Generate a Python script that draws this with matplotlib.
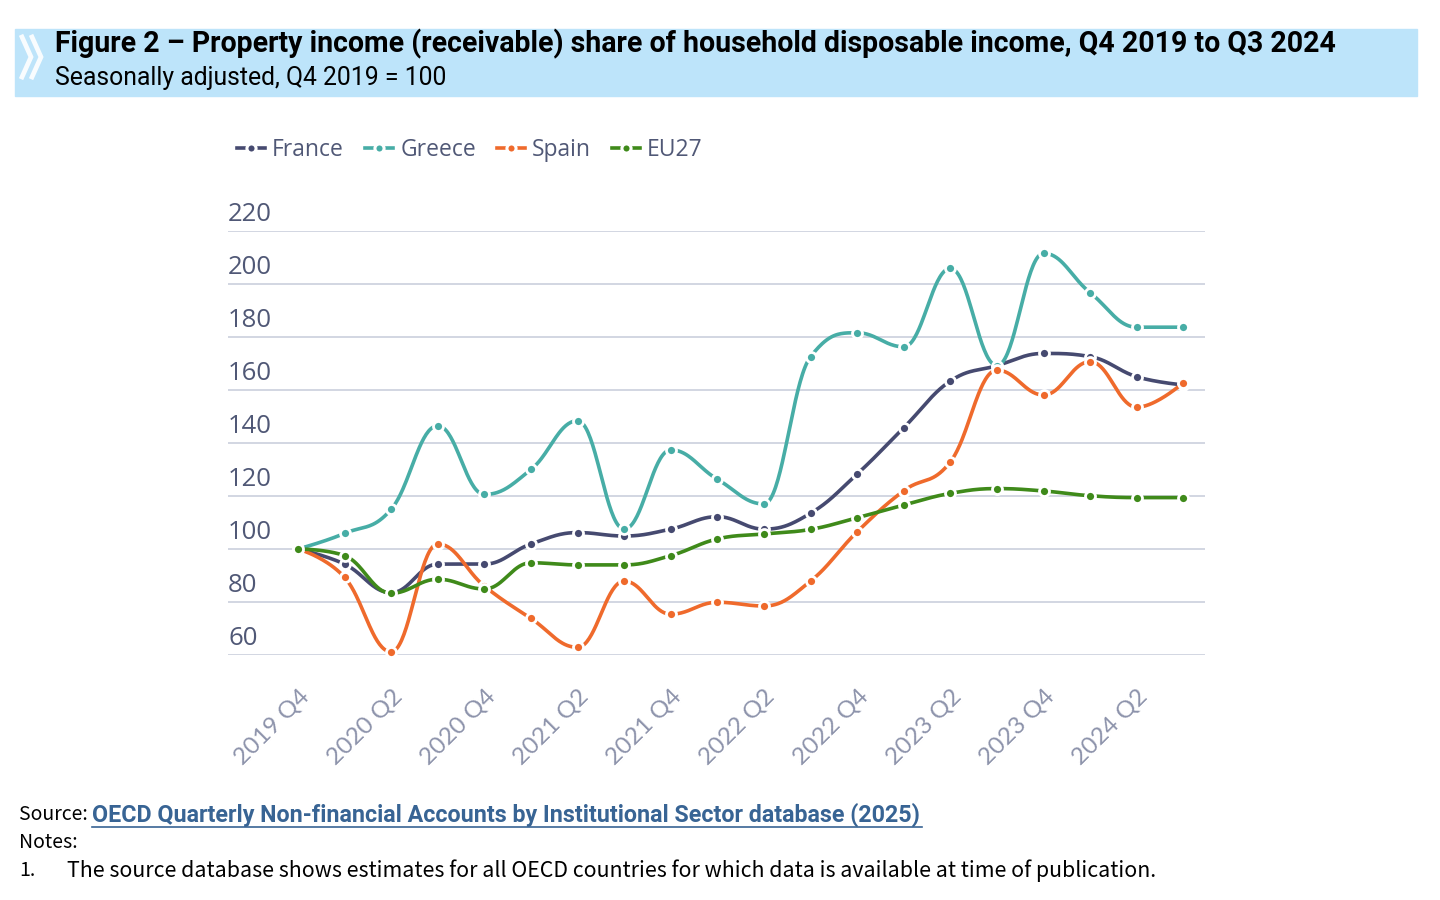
import numpy as np
import matplotlib
matplotlib.use('Agg')
import matplotlib.pyplot as plt
from matplotlib import font_manager
from matplotlib.lines import Line2D
from matplotlib.patches import Rectangle

# quarters 2019 Q4 .. 2024 Q3
quarters = ['2019 Q4', '2020 Q1', '2020 Q2', '2020 Q3', '2020 Q4', '2021 Q1', '2021 Q2',
            '2021 Q3', '2021 Q4', '2022 Q1', '2022 Q2', '2022 Q3', '2022 Q4', '2023 Q1',
            '2023 Q2', '2023 Q3', '2023 Q4', '2024 Q1', '2024 Q2', '2024 Q3']

france = [100, 94.3, 83.5, 94.3, 94.3, 101.9, 106.2, 104.9, 107.5, 112.2,
          107.5, 113.5, 128.3, 145.8, 163.4, 169.2, 173.8, 172.6, 165.0, 161.9]
greece = [100, 105.9, 115.0, 146.5, 120.6, 130.0, 148.4, 107.5, 137.4, 126.3,
          117.0, 172.6, 181.6, 176.3, 205.9, 169.2, 211.6, 196.7, 183.7, 183.7]
spain = [100, 89.3, 61.2, 101.9, 86.0, 73.8, 62.9, 87.9, 75.4, 79.9,
         78.5, 87.9, 106.5, 122.0, 132.9, 167.5, 158.1, 170.7, 153.5, 162.8]
eu27 = [100, 97.5, 83.3, 88.6, 84.9, 94.8, 94.0, 94.0, 97.5, 103.8,
        105.7, 107.4, 111.8, 116.6, 121.0, 122.8, 121.9, 120.1, 119.4, 119.4]

series_names = ['France', 'Greece', 'Spain', 'EU27']
series_vals = [france, greece, spain, eu27]
series_colors = ['#464a70', '#47ada6', '#ef6a2c', '#3f8a1a']
yticks = [60, 80, 100, 120, 140, 160, 180, 200, 220]

installed = {f.name for f in font_manager.fontManager.ttflist}
narrow = 'Liberation Sans Narrow' if 'Liberation Sans Narrow' in installed else 'Roboto'
cjk = 'Noto Sans CJK JP'
axis_font = 'Open Sans'
label_font = 'Lato'

W, H = 1440, 900
fig = plt.figure(figsize=(14.4, 9), dpi=100)


def fx(px):
    return px / W


def fy(py):
    return 1 - py / H


def fit_text(t, target_px):
    # scale font size so the text spans the wanted width in pixels
    r = fig.canvas.get_renderer()
    w = t.get_window_extent(r).width
    t.set_fontsize(t.get_fontsize() * target_px / w)


def spline(xs, ys, smoothing=1.5, n=40):
    # highcharts-like spline: cubic bezier between points
    xs = np.asarray(xs, float)
    ys = np.asarray(ys, float)
    m = len(xs)
    lc = np.zeros((m, 2))
    rc = np.zeros((m, 2))
    for i in range(m):
        px, py = xs[i], ys[i]
        lc[i] = rc[i] = (px, py)
        if 0 < i < m - 1:
            d = smoothing + 1
            lx, ly = xs[i - 1], ys[i - 1]
            nx, ny = xs[i + 1], ys[i + 1]
            lcx, lcy = (smoothing * px + lx) / d, (smoothing * py + ly) / d
            rcx, rcy = (smoothing * px + nx) / d, (smoothing * py + ny) / d
            corr = (rcy - lcy) * (rcx - px) / (rcx - lcx) + py - rcy
            lcy += corr
            rcy += corr
            if lcy > ly and lcy > py:
                lcy = max(ly, py)
                rcy = 2 * py - lcy
            elif lcy < ly and lcy < py:
                lcy = min(ly, py)
                rcy = 2 * py - lcy
            if rcy > ny and rcy > py:
                rcy = max(ny, py)
                lcy = 2 * py - rcy
            elif rcy < ny and rcy < py:
                rcy = min(ny, py)
                lcy = 2 * py - rcy
            lc[i] = (lcx, lcy)
            rc[i] = (rcx, rcy)
    t = np.linspace(0, 1, n)[:, None]
    out = [np.array([[xs[0], ys[0]]])]
    for i in range(1, m):
        p0 = np.array([xs[i - 1], ys[i - 1]])
        p3 = np.array([xs[i], ys[i]])
        p1, p2 = rc[i - 1], lc[i]
        seg = ((1 - t) ** 3) * p0 + 3 * ((1 - t) ** 2) * t * p1 + 3 * (1 - t) * t ** 2 * p2 + t ** 3 * p3
        out.append(seg[1:])
    pts = np.vstack(out)
    return pts[:, 0], pts[:, 1]


# header band
fig.patches.append(Rectangle((fx(15), fy(96)), fx(1417) - fx(15), fy(29) - fy(96),
                             transform=fig.transFigure, color='#bde4fa', zorder=0))
for x0 in (22, 32):
    fig.lines.append(Line2D([fx(x0), fx(x0 + 9), fx(x0)], [fy(37), fy(57), fy(77)],
                            transform=fig.transFigure, color='white', lw=3.4,
                            solid_joinstyle='miter', alpha=0.9))

title = fig.text(fx(55), fy(44), 'Figure 2 \u2013 Property income (receivable) share of household disposable income, Q4 2019 to Q3 2024',
                 fontsize=20, fontweight='bold', family=[narrow, 'DejaVu Sans'], color='black', va='center', ha='left')
sub = fig.text(fx(55), fy(78), 'Seasonally adjusted, Q4 2019 = 100', fontsize=14,
               family=[narrow, 'DejaVu Sans'], color='black', va='center', ha='left')
fit_text(title, 1280)
fit_text(sub, 395)

# plot area
ax = fig.add_axes([fx(228), fy(655), fx(1205) - fx(228), fy(231) - fy(655)])
ax.set_xlim(-70 / 46.6, 907 / 46.6)
ax.set_ylim(60, 220)
for s in ax.spines.values():
    s.set_visible(False)
ax.set_yticks(yticks)
ax.set_yticklabels([])
ax.tick_params(axis='y', length=0)
ax.grid(axis='y', color='#cfd3df', lw=1.3)
ax.set_axisbelow(True)
for v in yticks:
    # label sits just above its gridline
    ax.text(0, v + 1.4, str(v), transform=ax.get_yaxis_transform(), ha='left', va='bottom',
            fontsize=18.5, family=axis_font, color='#505876')

x = np.arange(len(quarters))
ax.set_xticks(x[::2])
ax.set_xticklabels(quarters[::2], rotation=45, ha='right', va='top', rotation_mode='anchor',
                   fontsize=17.5, family=label_font, fontweight='normal', color='#8d93ab')
ax.tick_params(axis='x', length=0, pad=22)

handles = []
for k, (name, vals, col) in enumerate(zip(series_names, series_vals, series_colors)):
    sx, sy = spline(x, vals)
    ax.plot(sx, sy, color=col, lw=2.6, zorder=3 + 2 * k, clip_on=False, solid_capstyle='round')
    ax.plot(x, vals, 'o', color=col, ms=7.2, mec='white', mew=2.0, zorder=4 + 2 * k, clip_on=False)
    handles.append(Line2D([], [], color=col, lw=2.6, marker='o', ms=6.6, mec='white', mew=2.2))

fig.legend(handles, series_names, loc='center left', bbox_to_anchor=(fx(216), fy(150)),
           ncol=4, frameon=False, handlelength=1.25, handletextpad=0.3, columnspacing=0.9,
           prop={'family': axis_font, 'size': 16.5}, labelcolor='#505876')

# footer
src = fig.text(fx(19), fy(815), 'Source: ', fontsize=14, family=cjk, color='black', va='center', ha='left')
r = fig.canvas.get_renderer()
src_w = src.get_window_extent(r).width
link = fig.text(fx(19 + src_w), fy(815),
                'OECD Quarterly Non-financial Accounts by Institutional Sector database (2025)',
                fontsize=14, family=[narrow, 'DejaVu Sans'], fontweight='bold', color='#386494',
                va='center', ha='left')
fit_text(link, 921 - 19 - src_w)
fig.lines.append(Line2D([fx(19 + src_w), fx(922)], [fy(827), fy(827)], transform=fig.transFigure,
                        color='#386494', lw=1.2))
fig.text(fx(19), fy(843), 'Notes:', fontsize=14, family=cjk, color='black', va='center', ha='left')
fig.text(fx(19), fy(871), '1.', fontsize=14, family=cjk, color='black', va='center', ha='left')
note = fig.text(fx(67), fy(871),
                'The source database shows estimates for all OECD countries for which data is available at time of publication.',
                fontsize=14, family=cjk, color='black', va='center', ha='left')
fit_text(note, 1152 - 67)

fig.savefig('out.png', dpi=100)
